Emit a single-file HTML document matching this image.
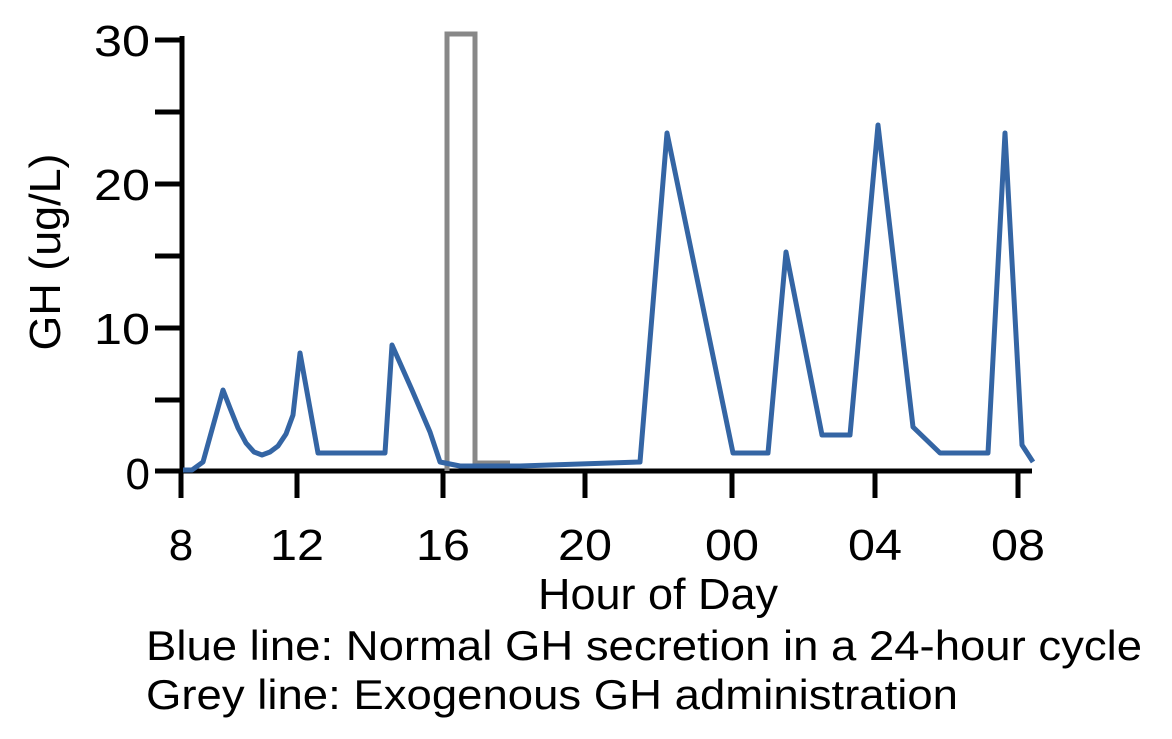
<!DOCTYPE html>
<html><head><style>body{margin:0;background:#fff}svg{display:block}</style></head><body>
<svg width="1172" height="739" xmlns="http://www.w3.org/2000/svg" font-family="Liberation Sans, sans-serif">
<g stroke="#000" stroke-width="5" fill="none">
<line x1="182" y1="36" x2="182" y2="473"/>
<line x1="155" y1="471" x2="1032" y2="471"/>
<line x1="155" y1="40" x2="182" y2="40"/>
<line x1="155" y1="112" x2="182" y2="112"/>
<line x1="155" y1="184" x2="182" y2="184"/>
<line x1="155" y1="256" x2="182" y2="256"/>
<line x1="155" y1="328" x2="182" y2="328"/>
<line x1="155" y1="400" x2="182" y2="400"/>
<line x1="181" y1="471" x2="181" y2="498"/>
<line x1="297" y1="471" x2="297" y2="498"/>
<line x1="443" y1="471" x2="443" y2="498"/>
<line x1="585" y1="471" x2="585" y2="498"/>
<line x1="732" y1="471" x2="732" y2="498"/>
<line x1="875" y1="471" x2="875" y2="498"/>
<line x1="1018" y1="471" x2="1018" y2="498"/>
</g>
<polyline fill="none" stroke="#888" stroke-width="5" points="447,471 447,34 475,34 475,463 510,463"/>
<polyline fill="none" stroke="#3465a4" stroke-width="5" stroke-linejoin="round" points="183,470 192,470 203,462 223,390 230,408 238,428 246,443 254,452 262,455 270,452 278,446 286,434 293,415 300,353 318,453 385,453 392,345 412,390 430,432 440,462 460,466 520,466 640,462 667,133 733,453 768,453 786,252 822,435 850,435 878,125 913,427 940,453 988,453 1005,133 1022,445 1033,462"/>
<g font-size="44" fill="#000" text-anchor="end">
<text x="150" y="56" textLength="56" lengthAdjust="spacingAndGlyphs">30</text>
<text x="150" y="200" textLength="56" lengthAdjust="spacingAndGlyphs">20</text>
<text x="150" y="344" textLength="56" lengthAdjust="spacingAndGlyphs">10</text>
<text x="150" y="489">0</text>
</g>
<g font-size="44" fill="#000" text-anchor="middle">
<text x="181" y="560">8</text>
<text x="297" y="560" textLength="54" lengthAdjust="spacingAndGlyphs">12</text>
<text x="443" y="560" textLength="54" lengthAdjust="spacingAndGlyphs">16</text>
<text x="585" y="560" textLength="54" lengthAdjust="spacingAndGlyphs">20</text>
<text x="732" y="560" textLength="54" lengthAdjust="spacingAndGlyphs">00</text>
<text x="875" y="560" textLength="54" lengthAdjust="spacingAndGlyphs">04</text>
<text x="1018" y="560" textLength="54" lengthAdjust="spacingAndGlyphs">08</text>
<text x="658" y="609" textLength="240" lengthAdjust="spacingAndGlyphs">Hour of Day</text>
<text transform="translate(60,252) rotate(-90)" textLength="197" lengthAdjust="spacingAndGlyphs">GH (ug/L)</text>
</g>
<g font-size="42" fill="#000">
<text x="146" y="660" textLength="996" lengthAdjust="spacingAndGlyphs">Blue line: Normal GH secretion in a 24-hour cycle</text>
<text x="146" y="709" textLength="812" lengthAdjust="spacingAndGlyphs">Grey line: Exogenous GH administration</text>
</g>
</svg>
</body></html>
